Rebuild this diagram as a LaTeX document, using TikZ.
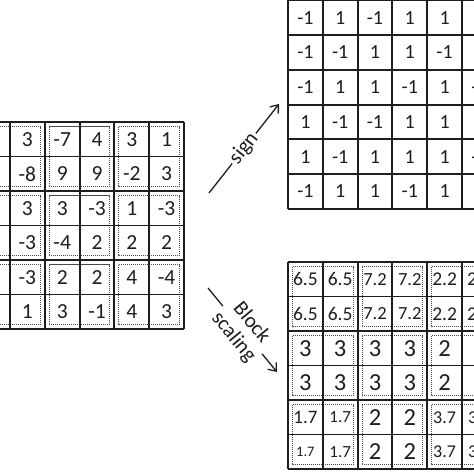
\documentclass[tikz,border=0pt]{standalone}
\usepackage{fontspec}
\setmainfont{Carlito}
\usetikzlibrary{arrows.meta}
\definecolor{ink}{HTML}{1E1E1E}
\tikzset{
  gridline/.style={draw=ink, line width=1.9pt},
  blockbox/.style={draw=ink!80, line width=0.9pt, dash pattern=on 1.1pt off 0.9pt},
  num/.style={inner sep=0pt, text=ink, font=\fontsize{#1}{#1}\selectfont},
  num/.default=20,
  conn/.style={draw=ink, line width=1.3pt, -{Straight Barb[length=7pt,width=11pt,line width=1.3pt]}},
  lab/.style={fill=white, inner sep=2pt, font=\fontsize{21}{23}\selectfont, text=ink, align=center}
}
\begin{document}
\begin{tikzpicture}[x=1pt,y=-1pt]
\useasboundingbox (0,0) rectangle (474,474);
\clip (0,0) rectangle (474,474);
\fill[white] (0,0) rectangle (474,474);

% ---------- left matrix ----------
\def\LX{-24.8}\def\LY{122}\def\LW{34.8}\def\LH{34.5}
\foreach \b in {0,1,2} \foreach \a in {0,1,2} {
  \draw[blockbox] (\LX+2*\a*\LW+4.5, \LY+2*\b*\LH+4.5) rectangle (\LX+2*\a*\LW+2*\LW-4.5, \LY+2*\b*\LH+2*\LH-4.5);
}
\foreach \i in {0,...,6} {
  \draw[gridline] (\LX+\i*\LW, \LY) -- (\LX+\i*\LW, \LY+6*\LH);
  \draw[gridline] (\LX, \LY+\i*\LH) -- (\LX+6*\LW, \LY+\i*\LH);
}
\foreach \row [count=\r from 0] in {{3,-7,4,3,1},{-8,9,9,-2,3},{3,3,-3,1,-3},{-3,-4,2,2,2},{-3,2,2,4,-4},{1,3,-1,4,3}} {
  \foreach \v [count=\c from 1] in \row {
    \node[num=21.5] (L\r\c) at (\LX+\c*\LW+0.5*\LW, \LY+\r*\LH+0.5*\LH) {\v};
  }
}

% ---------- sign matrix ----------
\def\SX{288}\def\SY{0.3}\def\SW{34.8}\def\SH{34.75}
\foreach \i in {0,...,6} {
  \draw[gridline] (\SX+\i*\SW, \SY) -- (\SX+\i*\SW, \SY+6*\SH);
  \draw[gridline] (\SX, \SY+\i*\SH) -- (\SX+6*\SW, \SY+\i*\SH);
}
\foreach \row [count=\r from 0] in {{-1,1,-1,1,1},{-1,-1,1,1,-1},{-1,1,1,-1,1},{1,-1,-1,1,1},{1,-1,1,1,1},{-1,1,1,-1,1}} {
  \foreach \v [count=\c from 0] in \row {
    \node[num=20] (S\r\c) at (\SX+\c*\SW+0.5*\SW, \SY+\r*\SH+0.5*\SH) {\v};
  }
}
\node[num=20] (S25) at (\SX+5.5*\SW, \SY+2.5*\SH) {-1};
\node[num=20] (S45) at (\SX+5.5*\SW, \SY+4.5*\SH) {-1};

% ---------- block scaling matrix ----------
\def\BX{288}\def\BY{262}\def\BW{34.8}\def\BH{34.5}
\foreach \b in {0,1,2} \foreach \a in {0,1,2} {
  \draw[blockbox] (\BX+2*\a*\BW+4.5, \BY+2*\b*\BH+4.5) rectangle (\BX+2*\a*\BW+2*\BW-4.5, \BY+2*\b*\BH+2*\BH-4.5);
}
\foreach \i in {0,...,6} {
  \draw[gridline] (\BX+\i*\BW, \BY) -- (\BX+\i*\BW, \BY+6*\BH);
  \draw[gridline] (\BX, \BY+\i*\BH) -- (\BX+6*\BW, \BY+\i*\BH);
}
\foreach \row [count=\r from 0] in {
  {6.5/19.5,6.5/19.5,7.2/18.5,7.2/18.5,2.2/19.5,2.2/19.5},
  {6.5/19.5,6.5/19.5,7.2/18.5,7.2/18.5,2.2/19.5,2.2/19.5},
  {3/24.5,3/24.5,3/24.5,3/24.5,2/24.5},
  {3/24.5,3/24.5,3/24.5,3/24.5,2/24.5},
  {1.7/19,1.7/17,2/24.5,2/24.5,3.7/18,3.7/18},
  {1.7/14.5,1.7/17,2/24.5,2/24.5,3.7/18,3.7/18}} {
  \foreach \v/\s [count=\c from 0] in \row {
    \node[num=\s] (B\r\c) at (\BX+\c*\BW+0.5*\BW, \BY+\r*\BH+0.5*\BH) {\v};
  }
}

% ---------- connectors ----------
\coordinate (sA) at (209,193);
\coordinate (sB) at (279,104);
\draw[conn] (sA) -- node[lab, sloped] (signlab) {sign} (sB);
\coordinate (bA) at (208,288);
\coordinate (bB) at (277,372);
\draw[conn] (bA) -- node[lab, sloped] (blocklab) {Block\\scaling} (bB);
\end{tikzpicture}
\end{document}
